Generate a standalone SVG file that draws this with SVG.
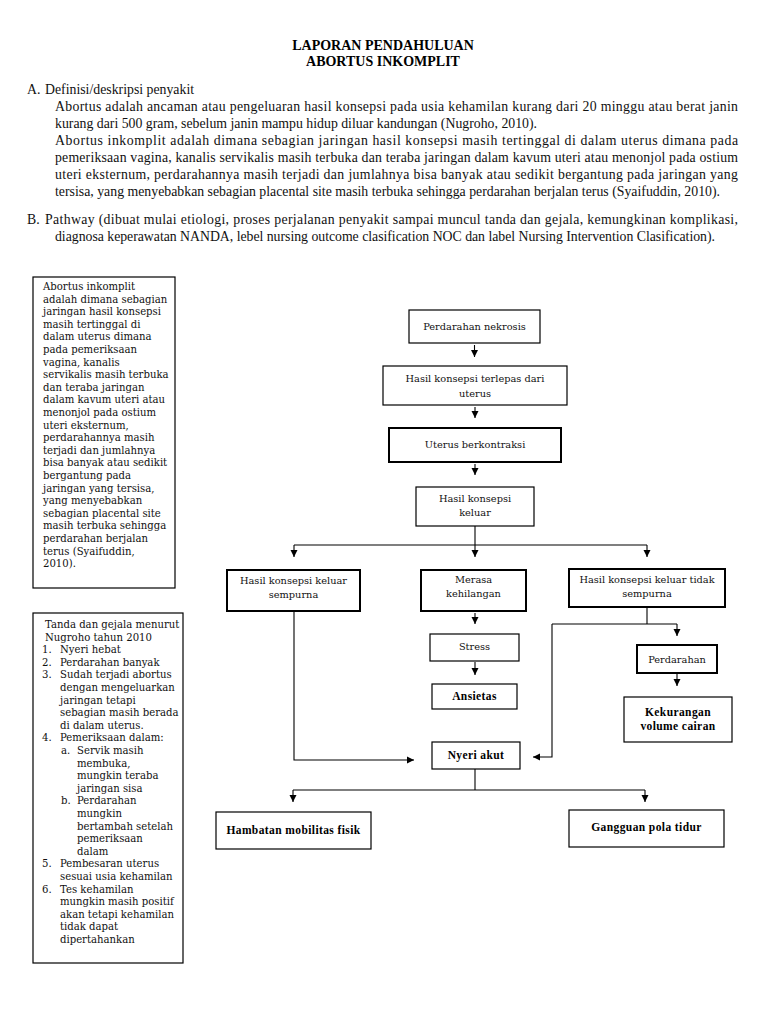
<svg xmlns="http://www.w3.org/2000/svg" width="768" height="1024" viewBox="0 0 768 1024">
<style>
.bg{fill:#fff}
.title{font-family:"Liberation Serif",serif;font-size:14px;font-weight:bold;text-anchor:middle;fill:#000}
.body{font-family:"Liberation Serif",serif;font-size:13.8px;fill:#111}
.box{fill:#fff;stroke:#000;stroke-width:1.2}
.boxb{fill:#fff;stroke:#000;stroke-width:2}
.side{font-family:"DejaVu Serif",serif;font-size:10.1px;fill:#111}
.nt{font-family:"DejaVu Serif",serif;font-size:9.8px;fill:#111;text-anchor:middle}
.nb{font-family:"Liberation Serif",serif;font-size:11.5px;font-weight:bold;letter-spacing:0.4px;fill:#000;text-anchor:middle}
.c{fill:none;stroke:#000;stroke-width:1.1}
</style>
<defs>
<marker id="ah" markerWidth="8" markerHeight="8" refX="7" refY="4" orient="auto" markerUnits="userSpaceOnUse">
<path d="M0,0.5 L7,4 L0,7.5 Z" fill="#000"/>
</marker>
</defs>
<rect class="bg" x="0" y="0" width="768" height="1024"/>

<g id="header">
<text class="title" x="383" y="50">LAPORAN PENDAHULUAN</text>
<text class="title" x="383" y="66">ABORTUS INKOMPLIT</text>
<text class="body" x="27" y="94">A.</text>
<text class="body" x="45" y="94">Definisi/deskripsi penyakit</text>
<text class="body" x="55" y="111" textLength="683" lengthAdjust="spacing">Abortus adalah ancaman atau pengeluaran hasil konsepsi pada usia kehamilan kurang dari 20 minggu atau berat janin</text>
<text class="body" x="55" y="128">kurang dari 500 gram, sebelum janin mampu hidup diluar kandungan (Nugroho, 2010).</text>
<text class="body" x="55" y="145" textLength="683" lengthAdjust="spacing">Abortus inkomplit adalah dimana sebagian jaringan hasil konsepsi masih tertinggal di dalam uterus dimana pada</text>
<text class="body" x="55" y="162" textLength="683" lengthAdjust="spacing">pemeriksaan vagina, kanalis servikalis masih terbuka dan teraba jaringan dalam kavum uteri atau menonjol pada ostium</text>
<text class="body" x="55" y="179" textLength="683" lengthAdjust="spacing">uteri eksternum, perdarahannya masih terjadi dan jumlahnya bisa banyak atau sedikit bergantung pada jaringan yang</text>
<text class="body" x="55" y="196" textLength="665" lengthAdjust="spacing">tersisa, yang menyebabkan sebagian placental site masih terbuka sehingga perdarahan berjalan terus (Syaifuddin, 2010).</text>
<text class="body" x="27" y="224">B.</text>
<text class="body" x="45" y="224" textLength="693" lengthAdjust="spacing">Pathway (dibuat mulai etiologi, proses perjalanan penyakit sampai muncul tanda dan gejala, kemungkinan komplikasi,</text>
<text class="body" x="55" y="241" textLength="660" lengthAdjust="spacing">diagnosa keperawatan NANDA, lebel nursing outcome clasification NOC dan label Nursing Intervention Clasification).</text>
</g>

<g id="definisi-box">
<rect class="box" x="33" y="277" width="142" height="311"/>
<text class="side" x="43" y="290">Abortus inkomplit</text>
<text class="side" x="43" y="302.6">adalah dimana sebagian</text>
<text class="side" x="43" y="315.2">jaringan hasil konsepsi</text>
<text class="side" x="43" y="327.8">masih tertinggal di</text>
<text class="side" x="43" y="340.4">dalam uterus dimana</text>
<text class="side" x="43" y="353">pada pemeriksaan</text>
<text class="side" x="43" y="365.6">vagina, kanalis</text>
<text class="side" x="43" y="378.2">servikalis masih terbuka</text>
<text class="side" x="43" y="390.8">dan teraba jaringan</text>
<text class="side" x="43" y="403.4">dalam kavum uteri atau</text>
<text class="side" x="43" y="416">menonjol pada ostium</text>
<text class="side" x="43" y="428.6">uteri eksternum,</text>
<text class="side" x="43" y="441.2">perdarahannya masih</text>
<text class="side" x="43" y="453.8">terjadi dan jumlahnya</text>
<text class="side" x="43" y="466.4">bisa banyak atau sedikit</text>
<text class="side" x="43" y="479">bergantung pada</text>
<text class="side" x="43" y="491.6">jaringan yang tersisa,</text>
<text class="side" x="43" y="504.2">yang menyebabkan</text>
<text class="side" x="43" y="516.8">sebagian placental site</text>
<text class="side" x="43" y="529.4">masih terbuka sehingga</text>
<text class="side" x="43" y="542">perdarahan berjalan</text>
<text class="side" x="43" y="554.6">terus (Syaifuddin,</text>
<text class="side" x="43" y="567.2">2010).</text>
</g>

<g id="tanda-gejala-box">
<rect class="box" x="33" y="613" width="150" height="350"/>
<text class="side" x="45" y="628">Tanda dan gejala menurut</text>
<text class="side" x="45" y="640.6">Nugroho tahun 2010</text>
<text class="side" x="42" y="653.2">1.</text><text class="side" x="60" y="653.2">Nyeri hebat</text>
<text class="side" x="42" y="665.8">2.</text><text class="side" x="60" y="665.8">Perdarahan banyak</text>
<text class="side" x="42" y="678.4">3.</text><text class="side" x="60" y="678.4">Sudah terjadi abortus</text>
<text class="side" x="60" y="691">dengan mengeluarkan</text>
<text class="side" x="60" y="703.6">jaringan tetapi</text>
<text class="side" x="60" y="716.2">sebagian masih berada</text>
<text class="side" x="60" y="728.8">di dalam uterus.</text>
<text class="side" x="42" y="741.4">4.</text><text class="side" x="60" y="741.4">Pemeriksaan dalam:</text>
<text class="side" x="61" y="754">a.</text><text class="side" x="77" y="754">Servik masih</text>
<text class="side" x="77" y="766.6">membuka,</text>
<text class="side" x="77" y="779.2">mungkin teraba</text>
<text class="side" x="77" y="791.8">jaringan sisa</text>
<text class="side" x="61" y="804.4">b.</text><text class="side" x="77" y="804.4">Perdarahan</text>
<text class="side" x="77" y="817">mungkin</text>
<text class="side" x="77" y="829.6">bertambah setelah</text>
<text class="side" x="77" y="842.2">pemeriksaan</text>
<text class="side" x="77" y="854.8">dalam</text>
<text class="side" x="42" y="867.4">5.</text><text class="side" x="60" y="867.4">Pembesaran uterus</text>
<text class="side" x="60" y="880">sesuai usia kehamilan</text>
<text class="side" x="42" y="892.6">6.</text><text class="side" x="60" y="892.6">Tes kehamilan</text>
<text class="side" x="60" y="905.2">mungkin masih positif</text>
<text class="side" x="60" y="917.8">akan tetapi kehamilan</text>
<text class="side" x="60" y="930.4">tidak dapat</text>
<text class="side" x="60" y="943">dipertahankan</text>
</g>

<g id="connectors">
<line class="c" x1="474.5" y1="345" x2="474.5" y2="357" marker-end="url(#ah)"/>
<line class="c" x1="475" y1="407" x2="475" y2="418" marker-end="url(#ah)"/>
<line class="c" x1="475" y1="464" x2="475" y2="475" marker-end="url(#ah)"/>
<polyline class="c" points="475,526 475,545"/>
<polyline class="c" points="294,545 647,545"/>
<line class="c" x1="294" y1="545" x2="294" y2="557" marker-end="url(#ah)"/>
<line class="c" x1="475" y1="545" x2="475" y2="557" marker-end="url(#ah)"/>
<line class="c" x1="647" y1="545" x2="647" y2="557" marker-end="url(#ah)"/>
<polyline class="c" points="294,611 294,760 414,760" marker-end="url(#ah)"/>
<line class="c" x1="475" y1="613" x2="475" y2="624" marker-end="url(#ah)"/>
<line class="c" x1="475" y1="662" x2="475" y2="675" marker-end="url(#ah)"/>
<polyline class="c" points="647,607 647,624"/>
<polyline class="c" points="552,624 677,624"/>
<line class="c" x1="677" y1="624" x2="677" y2="636" marker-end="url(#ah)"/>
<polyline class="c" points="552,624 552,757 533,757" marker-end="url(#ah)"/>
<line class="c" x1="677" y1="674" x2="677" y2="686" marker-end="url(#ah)"/>
<polyline class="c" points="475,769 475,790"/>
<polyline class="c" points="293,790 645,790"/>
<line class="c" x1="293" y1="790" x2="293" y2="802" marker-end="url(#ah)"/>
<line class="c" x1="645" y1="790" x2="645" y2="802" marker-end="url(#ah)"/>
</g>

<g id="n-perdarahan-nekrosis">
<rect class="box" x="409" y="310" width="131" height="33"/>
<text class="nt" x="474.5" y="330">Perdarahan nekrosis</text>
</g>
<g id="n-terlepas">
<rect class="box" x="383" y="366" width="184" height="39"/>
<text class="nt" x="475" y="382">Hasil konsepsi terlepas dari</text>
<text class="nt" x="475" y="397">uterus</text>
</g>
<g id="n-berkontraksi">
<rect class="boxb" x="389" y="428" width="172" height="34"/>
<text class="nt" x="475" y="448">Uterus berkontraksi</text>
</g>
<g id="n-keluar">
<rect class="box" x="416" y="487" width="118" height="39"/>
<text class="nt" x="475" y="502">Hasil konsepsi</text>
<text class="nt" x="475" y="516">keluar</text>
</g>
<g id="n-sempurna">
<rect class="boxb" x="227" y="570" width="133" height="41"/>
<text class="nt" x="293.5" y="584">Hasil konsepsi keluar</text>
<text class="nt" x="293.5" y="598">sempurna</text>
</g>
<g id="n-merasa">
<rect class="boxb" x="421" y="570" width="105" height="41"/>
<text class="nt" x="473.5" y="583">Merasa</text>
<text class="nt" x="473.5" y="597">kehilangan</text>
</g>
<g id="n-tidak-sempurna">
<rect class="boxb" x="569" y="569" width="156" height="38"/>
<text class="nt" x="647" y="583">Hasil konsepsi keluar tidak</text>
<text class="nt" x="647" y="597">sempurna</text>
</g>
<g id="n-stress">
<rect class="box" x="430" y="634" width="89" height="27"/>
<text class="nt" x="474.5" y="650">Stress</text>
</g>
<g id="n-ansietas">
<rect class="box" x="432" y="684" width="85" height="25"/>
<text class="nb" x="474.5" y="700">Ansietas</text>
</g>
<g id="n-perdarahan">
<rect class="boxb" x="637" y="645" width="80" height="28"/>
<text class="nt" x="677" y="663">Perdarahan</text>
</g>
<g id="n-kekurangan">
<rect class="box" x="624" y="697" width="108" height="45"/>
<text class="nb" x="678" y="716">Kekurangan</text>
<text class="nb" x="678" y="730">volume cairan</text>
</g>
<g id="n-nyeri">
<rect class="box" x="432" y="742" width="88" height="27"/>
<text class="nb" x="476" y="759">Nyeri akut</text>
</g>
<g id="n-hambatan">
<rect class="box" x="216" y="812" width="155" height="37"/>
<text class="nb" x="293.5" y="834">Hambatan mobilitas fisik</text>
</g>
<g id="n-gangguan">
<rect class="box" x="569" y="810" width="155" height="37"/>
<text class="nb" x="646.5" y="831">Gangguan pola tidur</text>
</g>
</svg>
